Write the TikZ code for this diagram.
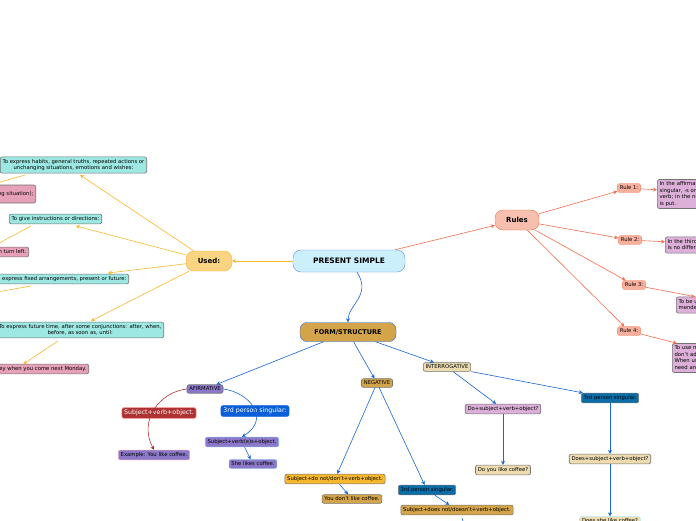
\documentclass[tikz,border=0pt]{standalone}
\usepackage{fontspec}
\setmainfont{DejaVu Sans}
\usetikzlibrary{arrows.meta}
\definecolor{teal1}{HTML}{9DE8E2}
\definecolor{pink1}{HTML}{E6A0B8}
\definecolor{purp}{HTML}{DCB0D8}
\definecolor{lav}{HTML}{8B78C8}
\definecolor{gold}{HTML}{D4A44A}
\definecolor{beige}{HTML}{ECDCB0}
\definecolor{blu}{HTML}{0A5FD8}
\definecolor{dblu}{HTML}{0A6EA8}
\definecolor{ora}{HTML}{F0704D}
\definecolor{yel}{HTML}{F5B82E}
\definecolor{cblue}{HTML}{1A66D8}
\tikzset{
 x=1pt,y=-1pt,
 bx/.style={draw=black!55,rounded corners=2pt,font=\fontsize{5.3}{6.4}\selectfont,inner sep=2.3pt,align=center,line width=0.6pt},
 tb/.style={bx,fill=teal1},
 pb/.style={bx,fill=pink1},
 rb/.style={bx,fill=#1!55,draw=ora!70},
 ub/.style={bx,fill=purp,align=left,text width=#1},
 ya/.style={draw=yel,-{Stealth[length=4pt,width=4pt]},line width=0.6pt},
 oa/.style={draw=ora,-{Stealth[length=4pt,width=4pt]},line width=0.6pt},
 ba/.style={draw=cblue,-{Stealth[length=4pt,width=4pt]},line width=0.6pt},
}
\begin{document}
\begin{tikzpicture}
\useasboundingbox (0,0) rectangle (696,520);
\clip (0,0) rectangle (696,520);
\fill[white] (0,0) rectangle (696,520);
% central
\node[draw=cblue!70,fill=cyan!20,rounded corners=8pt,minimum width=112,minimum height=22,font=\bfseries\fontsize{7.5}{8}\selectfont] (ps) at (349,261) {PRESENT SIMPLE};
\node[draw=yel,fill=yel!60,rounded corners=8pt,minimum width=46,minimum height=20,font=\bfseries\fontsize{7}{8}\selectfont] (used) at (209,261) {Used:};
\node[draw=ora,fill=ora!45,rounded corners=8pt,minimum width=44,minimum height=20,font=\bfseries\fontsize{7}{8}\selectfont] (rules) at (517,220) {Rules};
\node[draw=cblue,fill=gold,rounded corners=7pt,minimum width=96,minimum height=19,font=\bfseries\fontsize{6.5}{8}\selectfont] (form) at (348,332) {FORM/STRUCTURE};
\draw[ya] (ps) -- (used);
\draw[oa] (ps) -- (rules);
\draw[ba] (ps.south) ++(8,0) coordinate (c0) .. controls (372,295) and (348,305) .. (form.north);
% left
\node[tb,anchor=east] (h) at (147,165) {To express habits, general truths, repeated actions or\\ unchanging situations, emotions and wishes:};
\node[pb,anchor=east,minimum height=18] (hp) at (36,194) {I smoke (habit); I work in London (unchanging situation);};
\node[tb,anchor=east] (ins) at (102,219) {To give instructions or directions:};
\node[pb,anchor=east] (insp) at (29,252) {Go straight on and then turn left.};
\node[tb,anchor=east] (fix) at (129,279) {To express fixed arrangements, present or future:};
\node[tb,anchor=east] (fut) at (164,330) {To express future time, after some conjunctions: after, when,\\ before, as soon as, until:};
\node[pb,anchor=east] (mon) at (89,369) {I'll give you the money when you come next Monday.};
\coordinate (fixp) at (-20,295);
\draw[ya] (used) -- (80,175);
\draw[ya] (used) -- (76,226);
\draw[ya] (used) -- (108,273);
\draw[ya] (used) -- (91,321);
\draw[ya,-] (25,175) -- (hp);
\draw[ya,-] (31,226) -- (insp);
\draw[ya,-] (31,286) -- (fixp);
\draw[ya] (58,341) -- (mon);
% rules
\node[rb=ora] (r1) at (629,188) {Rule 1:};
\node[rb=ora] (r2) at (630,240) {Rule 2:};
\node[rb=ora] (r3) at (634,285) {Rule 3:};
\node[rb=ora] (r4) at (629,331) {Rule 4:};
\node[ub=120,anchor=west] (t1) at (657,194) {In the affirmative form of the third person singular, -s or -es is added at the end of the verb; in the negative and interrogative, does is put.};
\node[ub=120,anchor=west] (t2) at (665,245) {In the third person singular, however, there is no difference between singular and plural.};
\node[ub=120,anchor=west] (t3) at (676,305) {To be used in the present, it is recommended to use some conjunctions.};
\node[ub=120,anchor=west] (t4) at (672,358) {To use modal verbs (can, must, may), you don't add -s. You should remember this. When using them in a sentence, you don't need an auxiliary verb.};
\foreach \r/\t in {r1/t1,r2/t2,r3/t3,r4/t4}{\draw[oa] (rules) -- (\r); \draw[oa] (\r) -- (\t);}
% form
\node[bx,fill=lav] (af) at (205,389) {AFIRMATIVE};
\node[bx,fill=gold] (neg) at (377,383) {NEGATIVE};
\node[bx,fill=beige] (int) at (447,367) {INTERROGATIVE};
\draw[ba] (form) -- (af); \draw[ba] (form) -- (neg); \draw[ba] (form) -- (int);
\node[bx,fill=red!60!black!80,text=white,draw=red!40,font=\fontsize{6.3}{7}\selectfont] (svo) at (159,413) {Subject+verb+object.};
\node[bx,fill=lav,draw=pink1] (ex) at (154,455) {Example: You like coffee.};
\draw[draw=red!60!black!80,-{Stealth[length=4pt,width=4pt]},line width=0.6pt] (af.west) .. controls (160,392) and (138,420) .. (ex.north);
\node[bx,fill=blu,text=white,draw=blu,font=\fontsize{6.3}{7}\selectfont] (p3a) at (255,411) {3rd person singular:};
\node[bx,fill=lav,draw=cblue!50] (sva) at (242,442) {Subject+verb(e)s+object.};
\node[bx,fill=lav,draw=cblue!50] (she) at (253,464) {She likes coffee.};
\draw[ba] (af.east) .. controls (248,392) and (272,418) .. (sva.north);
\draw[ba] (sva) -- (she);
\node[bx,fill=yel] (sdn) at (335,479) {Subject+do not/don't+verb+object.};
\node[bx,fill=gold] (ydn) at (352,499) {You don't like coffee.};
\node[bx,fill=dblu] (p3n) at (427,490) {3rd person singular.};
\node[bx,fill=gold] (sdsn) at (457,510) {Subject+does not/doesn't+verb+object.};
\draw[ba] (neg) -- (sdn); \draw[ba] (sdn) -- (ydn);
\draw[ba] (neg) -- (p3n); \draw[ba] (p3n) -- (sdsn);
\draw[ba,-] (sdsn.south) ++(5,3) -- ++(2,6);
\node[bx,fill=purp] (dsv) at (503,409) {Do+subject+verb+object?};
\node[bx,fill=beige] (dyl) at (503,470) {Do you like coffee?};
\node[bx,fill=dblu] (p3i) at (610,398) {3rd person singular.};
\node[bx,fill=beige] (dsq) at (610,459) {Does+subject+verb+object?};
\node[bx,fill=beige,draw=cyan!30] (dsl) at (610,521) {Does she like coffee?};
\draw[ba] (int) -- (dsv); \draw[ba] (dsv) -- (dyl);
\draw[ba] (int) -- (p3i); \draw[ba] (p3i) -- (dsq); \draw[ba] (dsq) -- (dsl);
\end{tikzpicture}
\end{document}
